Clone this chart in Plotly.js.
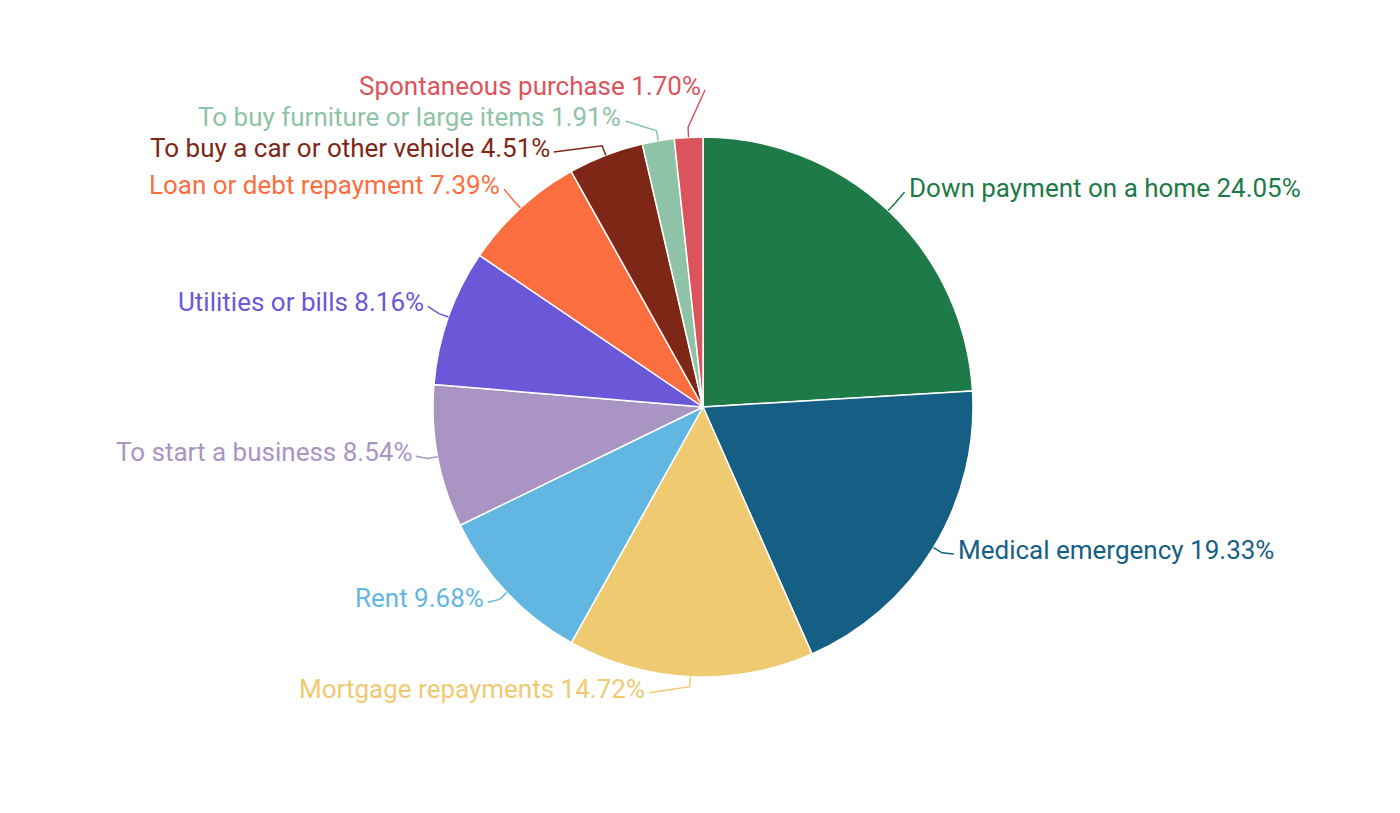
<!DOCTYPE html>
<html>
<head>
<meta charset="utf-8">
<script src="https://cdn.plot.ly/plotly-3.0.1.min.js"></script>
<style>
  html, body { margin: 0; padding: 0; background: #fff; }
  #chart { width: 1400px; height: 813px; }
</style>
</head>
<body>
<div id="chart"></div>
<script>
// Reasons for using savings, share of respondents (%)
const categories = [
  "Down payment on a home",
  "Medical emergency",
  "Mortgage repayments",
  "Rent",
  "To start a business",
  "Utilities or bills",
  "Loan or debt repayment",
  "To buy a car or other vehicle",
  "To buy furniture or large items",
  "Spontaneous purchase"
];
const shares = [24.05, 19.33, 14.72, 9.68, 8.54, 8.16, 7.39, 4.51, 1.91, 1.70];
const sliceColors = [
  "#1E7A47", "#155F85", "#EFCA70", "#62B7E2", "#A994C4",
  "#6B58D8", "#FB6E40", "#7F2716", "#8FC3A8", "#DC545B"
];

// Page and pie geometry
const W = 1400, H = 813;
const margin = { l: 100, r: 94, t: 137, b: 136 };
const plotW = W - margin.l - margin.r;
const plotH = H - margin.t - margin.b;
const R = Math.min(plotW, plotH) / 2;
const cx = margin.l + plotW / 2;
const cy = margin.t + plotH / 2;

const FONT_SIZE = 26;
const LABEL_GAP = 31;      // minimum vertical distance between stacked labels
const LABEL_R = R + 24;    // labels ride on this circle
const ELBOW = 10;          // radial length of the first leader segment

const toPaperX = px => (px - margin.l) / plotW;
const toPaperY = py => 1 - (py - margin.t) / plotH;
const polar = (r, a) => [cx + r * Math.sin(a), cy - r * Math.cos(a)];

// Mid-angle of every slice, clockwise from 12 o'clock
const total = shares.reduce((s, v) => s + v, 0);
let acc = 0;
const labelItems = shares.map((v, i) => {
  const mid = (acc + v / 2) / total * 2 * Math.PI;
  acc += v;
  // text centre sits a little above the anchor, more so on the lower half
  const natural = polar(LABEL_R, mid)[1] - 8 + 4 * Math.cos(mid);
  return { i, mid, side: Math.sin(mid) >= 0 ? 1 : -1, natural, y: natural };
});

// Stack labels on each side so they never overlap
function spread(items, gap) {
  items.sort((a, b) => a.natural - b.natural);
  let clusters = items.map(it => ({ members: [it], top: it.natural }));
  let changed = true;
  while (changed) {
    changed = false;
    for (let k = 0; k < clusters.length - 1; k++) {
      const a = clusters[k], b = clusters[k + 1];
      const aBottom = a.top + (a.members.length - 1) * gap;
      if (b.top - aBottom < gap) {
        const members = a.members.concat(b.members);
        const top = members.reduce((s, m, j) => s + m.natural - j * gap, 0) / members.length;
        clusters.splice(k, 2, { members, top });
        changed = true;
        break;
      }
    }
  }
  clusters.forEach(c => c.members.forEach((m, j) => { m.y = c.top + j * gap; }));
}
spread(labelItems.filter(d => d.side > 0), LABEL_GAP);
spread(labelItems.filter(d => d.side < 0), LABEL_GAP);

// Horizontal position: where the label's row meets the label circle
labelItems.forEach(d => {
  const dy = d.y + 7 - cy;
  d.x = cx + d.side * Math.sqrt(Math.max(0, LABEL_R * LABEL_R - dy * dy));
});

const annotations = [];
const shapes = [];
labelItems.forEach(d => {
  const color = sliceColors[d.i];
  annotations.push({
    xref: "paper", yref: "paper",
    x: toPaperX(d.x), y: toPaperY(d.y),
    xanchor: d.side > 0 ? "left" : "right",
    yanchor: "middle",
    text: categories[d.i] + " " + shares[d.i].toFixed(2) + "%",
    showarrow: false,
    font: { family: "Roboto, sans-serif", size: FONT_SIZE, color: color }
  });
  const e = polar(R, d.mid);
  const b = polar(R + ELBOW, d.mid);
  const endX = d.x - d.side * 2;
  const endY = d.y + 4;
  shapes.push({
    type: "path",
    xref: "paper", yref: "paper",
    path: "M" + toPaperX(e[0]) + "," + toPaperY(e[1]) +
          " L" + toPaperX(b[0]) + "," + toPaperY(b[1]) +
          " L" + toPaperX(endX) + "," + toPaperY(endY),
    line: { color: color, width: 1.5 },
    layer: "above"
  });
});

const trace = {
  type: "pie",
  labels: categories,
  values: shares,
  sort: false,
  direction: "clockwise",
  rotation: 0,
  marker: { colors: sliceColors, line: { color: "#ffffff", width: 1.5 } },
  textinfo: "none",
  hoverinfo: "label+value",
  showlegend: false
};

const layout = {
  width: W,
  height: H,
  margin: margin,
  paper_bgcolor: "#ffffff",
  plot_bgcolor: "#ffffff",
  font: { family: "Roboto, sans-serif" },
  showlegend: false,
  annotations: annotations,
  shapes: shapes
};

Plotly.newPlot("chart", [trace], layout, { displayModeBar: false, staticPlot: true });
</script>
</body>
</html>
